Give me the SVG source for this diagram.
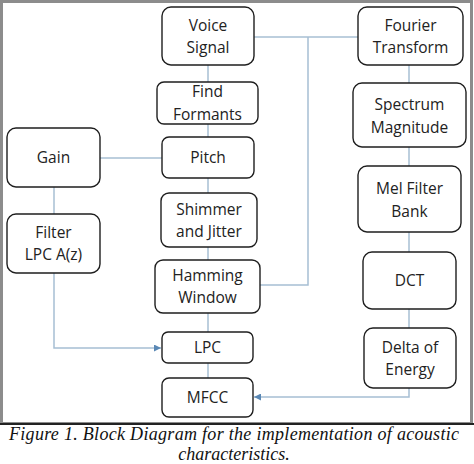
<svg xmlns="http://www.w3.org/2000/svg" width="474" height="464" viewBox="0 0 474 464">
<defs>
<style>
.n rect{fill:#fff;stroke:#1e1e1e;stroke-width:1.4}
.n text{font-family:"Open Sans","Liberation Sans",sans-serif;font-size:15.5px;fill:#222;text-anchor:middle}
.c path{fill:none;stroke:#a7bfd3;stroke-width:1.5}
.cap{font-family:"Liberation Serif",serif;font-style:italic;font-size:18px;fill:#111;text-anchor:middle}
</style>
<marker id="ah" viewBox="0 0 10 10" refX="10" refY="5" markerWidth="7" markerHeight="7" markerUnits="userSpaceOnUse" orient="auto">
<path d="M0,0 L10,5 L0,10 z" fill="#5a88b5"/>
</marker>
</defs>
<rect x="0" y="0" width="474" height="464" fill="#fff"/>
<rect x="1.5" y="1.5" width="470" height="422" fill="#fff" stroke="#8c8c8c" stroke-width="3"/>
<line x1="0" y1="424" x2="474" y2="424" stroke="#222" stroke-width="2"/>
<g class="c" id="connectors">
<path d="M254 37 H358"/>
<path d="M308 37 V285 H260"/>
<path d="M208 65 V82"/>
<path d="M208 124 V137"/>
<path d="M208 178 V193"/>
<path d="M208 247 V260"/>
<path d="M208 313 V332"/>
<path d="M208 363 V378"/>
<path d="M100 158 H162"/>
<path d="M54 187 V214"/>
<path d="M54 273 V348 H161" marker-end="url(#ah)"/>
<path d="M409 65 V83"/>
<path d="M409 147 V166"/>
<path d="M409 232 V252"/>
<path d="M409 309 V328"/>
<path d="M409 388 V397 H254" marker-end="url(#ah)"/>
</g>
<g class="n" id="voice"><rect x="162" y="7" width="92" height="58" rx="9"/><text x="208" y="31">Voice</text><text x="208" y="53">Signal</text></g>
<g class="n" id="fourier"><rect x="358" y="7" width="105" height="58" rx="9"/><text x="410.5" y="31">Fourier</text><text x="410.5" y="53">Transform</text></g>
<g class="n" id="formants"><rect x="157" y="82" width="101" height="42" rx="7"/><text x="207.5" y="97">Find</text><text x="207.5" y="120">Formants</text></g>
<g class="n" id="spectrum"><rect x="353" y="83" width="113" height="64" rx="9"/><text x="409.5" y="110">Spectrum</text><text x="409.5" y="133">Magnitude</text></g>
<g class="n" id="gain"><rect x="7" y="128" width="93" height="59" rx="9"/><text x="53.5" y="163">Gain</text></g>
<g class="n" id="pitch"><rect x="162" y="137" width="92" height="41" rx="7"/><text x="208" y="163">Pitch</text></g>
<g class="n" id="mel"><rect x="358" y="166" width="103" height="66" rx="9"/><text x="409.5" y="194">Mel Filter</text><text x="409.5" y="217">Bank</text></g>
<g class="n" id="shimmer"><rect x="161" y="193" width="96" height="54" rx="8"/><text x="209" y="215">Shimmer</text><text x="209" y="237">and Jitter</text></g>
<g class="n" id="filter"><rect x="7" y="214" width="93" height="59" rx="9"/><text x="53.5" y="238">Filter</text><text x="53.5" y="260">LPC A(z)</text></g>
<g class="n" id="hamming"><rect x="155" y="260" width="105" height="53" rx="8"/><text x="207.5" y="281">Hamming</text><text x="207.5" y="303">Window</text></g>
<g class="n" id="dct"><rect x="363" y="252" width="93" height="57" rx="9"/><text x="409.5" y="286">DCT</text></g>
<g class="n" id="lpc"><rect x="162" y="332" width="91" height="31" rx="6"/><text x="207.5" y="353">LPC</text></g>
<g class="n" id="delta"><rect x="364" y="328" width="92" height="60" rx="9"/><text x="410" y="353">Delta of</text><text x="410" y="375">Energy</text></g>
<g class="n" id="mfcc"><rect x="162" y="378" width="91" height="39" rx="7"/><text x="207.5" y="403">MFCC</text></g>
<text class="cap" x="234" y="440" textLength="450" lengthAdjust="spacing">Figure 1. Block Diagram for the implementation of acoustic</text>
<text class="cap" x="234" y="460">characteristics.</text>
</svg>
